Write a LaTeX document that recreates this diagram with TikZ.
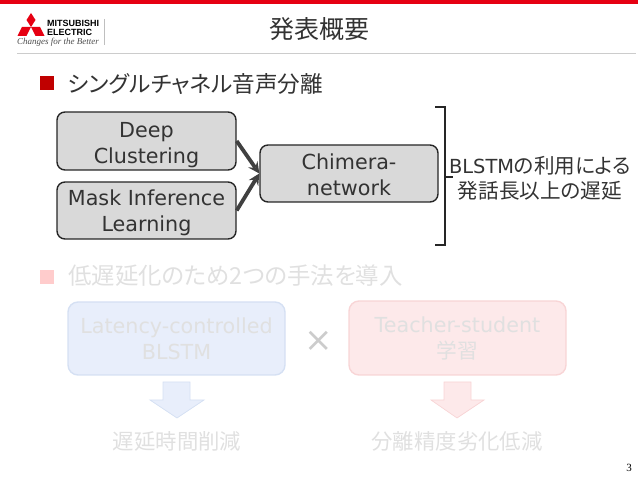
\documentclass[tikz,border=0pt]{standalone}
\usepackage{fontspec}
\setmainfont{DejaVu Sans}
\newfontfamily\jpfont[RawFeature=+palt]{Noto Sans CJK JP}
\newfontfamily\logofont{Liberation Sans}
\newfontfamily\slogfont{Liberation Serif}
\definecolor{bandred}{HTML}{E60012}
\definecolor{bulletred}{HTML}{C00000}
\definecolor{inktext}{HTML}{333333}
\definecolor{fadetext}{HTML}{E0E0E0}
\definecolor{fadeblue}{HTML}{E8EEFB}
\definecolor{edgeblue}{HTML}{D5E0F3}
\definecolor{fadered}{HTML}{FDE9EA}
\definecolor{edgered}{HTML}{F8D5D6}
\newcommand{\jp}[1]{{\jpfont #1}}
\newcommand{\boxtop}[1]{\rule{0pt}{#1pt}}
\begin{document}
\begin{tikzpicture}[
        x=1pt, y=-1pt,
        every node/.style={text=inktext, align=center, inner sep=0pt},
        boxtext/.style={font=\fontsize{20.7}{26}\selectfont},
        darkbox/.style={boxtext, draw=black!85, fill=black!15, line width=1.4pt, rounded corners=8pt},
        bluebox/.style={boxtext, draw=edgeblue, fill=fadeblue, line width=1.4pt, rounded corners=10pt, text=fadetext},
        redbox/.style={boxtext, draw=edgered, fill=fadered, line width=1.4pt, rounded corners=10pt, text=fadetext},
        heading/.style={anchor=west, font=\fontsize{22.6}{26}\selectfont\jpfont},
        caption/.style={text=fadetext, font=\fontsize{21.4}{24}\selectfont\jpfont},
        linkarrow/.style={draw=black!75, line width=3.8pt, ->, >=stealth},
    ]
    \useasboundingbox (0,0) rectangle (638,478);
    % top band and logo
    \fill[bandred] (0,0) rectangle (638,4);
    \draw[black!20, line width=0.7pt] (17,53) -- (636,53);
    \draw[black!25, line width=0.6pt] (104,19) -- (104,45);
    \fill[bandred] (31,13) -- (35.5,20) -- (31,27) -- (26.5,20) -- cycle;
    \fill[bandred] (31,27) -- (26.5,36) -- (17.5,36) -- (22,27) -- cycle;
    \fill[bandred] (31,27) -- (35.5,36) -- (44.5,36) -- (40,27) -- cycle;
    \node[anchor=west, font=\fontsize{9}{9}\selectfont\bfseries\logofont, text=black, align=left] (logotext) at (47,27.5) {MITSUBISHI\\ELECTRIC};
    \node[anchor=west, font=\fontsize{9}{10}\selectfont\itshape\slogfont, text=black!70] (slogan) at (17,42.5) {Changes for the Better};
    \node[font=\fontsize{25}{28}\selectfont\jpfont] (title) at (319,29) {発表概要};
    \node[font=\fontsize{11}{13}\selectfont\slogfont, text=black] (page) at (629,468) {3};
    % first bullet
    \fill[bulletred] (40,76) rectangle (54,90);
    \node[heading] (head1) at (68,84) {シングルチャネル音声分離};
    \node[darkbox, minimum width=179pt, minimum height=58pt] (deep) at (146.5,141) {\boxtop{23}Deep\\Clustering};
    \node[darkbox, minimum width=179pt, minimum height=57pt] (mask) at (146.5,210.5) {\boxtop{20}Mask Inference\\Learning};
    \node[darkbox, minimum width=178pt, minimum height=57pt] (chimera) at (349,173.5) {\boxtop{19}Chimera-\\network};
    \draw[linkarrow] (deep.east) -- (chimera.west);
    \draw[linkarrow] (mask.east) -- (chimera.west);
    \coordinate (brtop) at (435,107);
    \coordinate (brbot) at (435,245);
    \coordinate (brtip) at (453,177);
    \draw[black!85, line width=1.3pt] (brtop) -- (445,107) -- (445,245) -- (brbot);
    \draw[black!85, line width=1.3pt] (445,177) -- (brtip);
    \node[font=\fontsize{19.4}{25}\selectfont] (delay) at (540,178) {BLSTM{\fontsize{20.6}{25}\selectfont\jpfont の利用による}\\{\fontsize{20.6}{25}\selectfont\jpfont 発話長以上の遅延}};
    % second bullet, faded
    \fill[red!20!white] (40,270) rectangle (54,284);
    \node[heading, text=fadetext, font=\fontsize{23.4}{26}\selectfont\jpfont] (head2) at (68,276) {低遅延化のため2つの手法を導入};
    \node[bluebox, minimum width=217pt, minimum height=73pt] (latency) at (176.5,338.5) {Latency-controlled\\BLSTM};
    \node[redbox, minimum width=217pt, minimum height=74pt] (teacher) at (457.5,338) {Teacher-student\\\jp{学習}};
    \node[font=\fontsize{34}{34}\selectfont, text=black!20] (times) at (319,341) {×};
    \fill[fadeblue, draw=edgeblue, line width=0.7pt] (163,382) -- (190,382) -- (190,400) -- (204,400) -- (177,418) -- (150,400) -- (163,400) -- cycle;
    \fill[fadered, draw=edgered, line width=0.7pt] (444,382) -- (471,382) -- (471,400) -- (484,400) -- (457,418) -- (431,400) -- (444,400) -- cycle;
    \node[caption] (cap1) at (177,441) {遅延時間削減};
    \node[caption] (cap2) at (457,441) {分離精度劣化低減};
\end{tikzpicture}
\end{document}
